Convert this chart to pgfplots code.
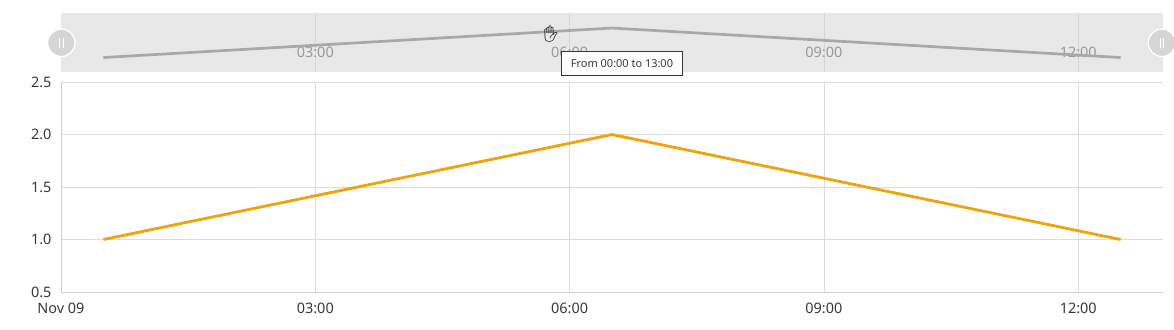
\documentclass[border=0pt]{standalone}
\usepackage{fontspec}
\setmainfont{Noto Sans}
\newfontfamily\emojifont{Noto Emoji}
\usepackage{pgfplots}
\pgfplotsset{compat=1.18}
\definecolor{gridc}{HTML}{DCDCDC}
\definecolor{axc}{HTML}{CFCFCF}
\definecolor{orangec}{HTML}{F0A30A}
\definecolor{navbg}{HTML}{E8E8E8}
\definecolor{navgrid}{HTML}{D6D6D6}
\definecolor{navline}{HTML}{A8A8A8}
\definecolor{navtext}{HTML}{999999}
\definecolor{handlec}{HTML}{D6D6D6}
\definecolor{labc}{HTML}{383838}
\begin{document}
\begin{tikzpicture}
\useasboundingbox (0,0) rectangle (1174bp,-330bp);
% navigator
\begin{axis}[
  at={(61bp,-72bp)}, anchor=south west,
  scale only axis, width=1102bp, height=59bp,
  xmin=0, xmax=13, ymin=0.51, ymax=2.51,
  axis background/.style={fill=navbg},
  axis line style={draw=none},
  ytick=\empty,
  xtick={3,6,9,12}, xticklabels={03:00,06:00,09:00,12:00},
  xmajorgrids, major grid style={navgrid, line width=0.75bp},
  tick style={draw=none},
  xticklabel style={anchor=center, yshift=20bp, text=navtext, font=\fontsize{14.5}{17}\selectfont},
  clip=false,
]
\addplot[navline, line width=2.7bp] coordinates {(0.5,1) (6.5,2) (12.5,1)};
\end{axis}
% main
\begin{axis}[
  at={(61bp,-292bp)}, anchor=south west,
  scale only axis, width=1102bp, height=210bp,
  xmin=0, xmax=13, ymin=0.5, ymax=2.5,
  xtick={0,3,6,9,12}, xticklabels={Nov 09,03:00,06:00,09:00,12:00},
  ytick={0.5,1,1.5,2,2.5},
  yticklabel style={/pgf/number format/fixed, /pgf/number format/fixed zerofill, /pgf/number format/precision=1, /pgf/number format/assume math mode=true, xshift=-6bp},
  grid=major, major grid style={gridc, line width=0.75bp},
  axis x line*=bottom, axis y line*=left,
  axis line style={axc, line width=1bp},
  tick style={draw=none},
  tick label style={font=\fontsize{14.5}{17}\selectfont, text=labc},
  xticklabel style={yshift=-8bp},
]
\addplot[orangec, line width=2.8bp] coordinates {(0.5,1) (6.5,2) (12.5,1)};
\end{axis}
% handles
\foreach \hx in {61.3,1162} {
  \draw[fill=handlec, draw=white, line width=1.3bp] (\hx bp,-42.8bp) circle (13.7bp);
  \draw[white, line width=1bp] (\hx bp-1.7bp,-37.5bp) -- (\hx bp-1.7bp,-48bp);
  \draw[white, line width=1bp] (\hx bp+1.7bp,-37.5bp) -- (\hx bp+1.7bp,-48bp);
}
% tooltip
\draw[fill=white, draw=labc, line width=0.9bp] (561.3bp,-51.7bp) rectangle (682.7bp,-75.3bp);
\node[text=labc, font=\fontsize{11}{13}\selectfont, inner sep=0] at (622bp,-63.5bp) {From 00:00 to 13:00};
\node[font=\emojifont\fontsize{16}{18}\selectfont, inner sep=0] at (551bp,-34bp) {✋};
\end{tikzpicture}
\end{document}
